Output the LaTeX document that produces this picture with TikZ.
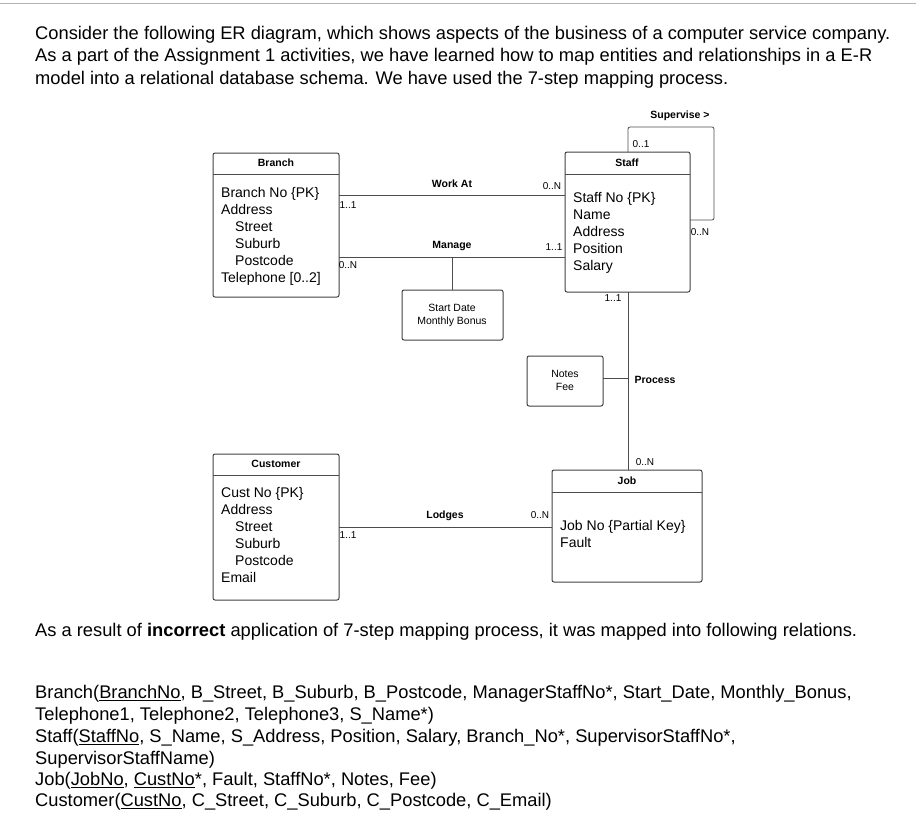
\documentclass[tikz,border=0pt]{standalone}
\usepackage{fontspec}
\setmainfont{Liberation Sans}
\newcommand{\ul}[1]{\underline{#1}}
\begin{document}
\begin{tikzpicture}[x=1pt,y=-1pt,
  ent/.style={draw=black!75,line width=1pt,rounded corners=2pt},
  ln/.style={draw=black!70,line width=0.8pt},
  lab/.style={font=\fontsize{10.5}{12}\selectfont\bfseries,inner sep=0pt},
  card/.style={font=\fontsize{10}{12}\selectfont,inner sep=0pt},
  attr/.style={font=\fontsize{14}{17}\selectfont,align=left,anchor=north west,inner sep=0pt},
  body/.style={font=\fontsize{18.3}{22.5}\selectfont,anchor=west,inner sep=0pt}]
\useasboundingbox (0,0) rectangle (916,819);
\draw[black!30,line width=1pt] (0,3) -- (916,3);
\node[body] (t1) at (35,35) {Consider the following ER diagram, which shows aspects of the business of a computer service company.};
\node[body] (t2) at (35,57) {As a part of the Assignment 1 activities, we have learned how to map entities and relationships in a E-R};
\node[body] (t3) at (35,80) {model into a relational database schema. We have used the 7-step mapping process.};
% Branch
\draw[ent] (213,153) rectangle (339,297);
\draw[ln] (213,174) -- (339,174);
\node[lab] (bh) at (276,163) {Branch};
\node[attr] (ba) at (221,187) {Branch No \{PK\}\\Address\\\quad Street\\\quad Suburb\\\quad Postcode\\Telephone [0..2]};
% Staff
\draw[ent] (565,152) rectangle (690,292);
\draw[ln] (565,174) -- (690,174);
\node[lab] (sh) at (627,163) {Staff};
\node[attr] (sa) at (573,192) {Staff No \{PK\}\\Name\\Address\\Position\\Salary};
% Supervise loop
\draw[ln,rounded corners=2pt] (628,152) -- (628,127) -- (714,127) -- (714,220) -- (690,220);
\node[lab] (sv) at (680,116) {Supervise >};
\node[card] (c01) at (641,144) {0..1};
\node[card] (c0n) at (700,232) {0..N};
% Work At
\draw[ln] (339,195) -- (565,195);
\node[lab] (wa) at (452,184) {Work At};
\node[card] (w1) at (348,205) {1..1};
\node[card] (w2) at (552,186) {0..N};
% Manage
\draw[ln] (339,257) -- (565,257);
\node[lab] (mg) at (452,246) {Manage};
\node[card] (m1) at (348,265) {0..N};
\node[card] (m2) at (554,247) {1..1};
\draw[ent] (402,290) rectangle (503,340);
\node[font=\fontsize{10.5}{13}\selectfont,align=center] (mb) at (452,315) {Start Date\\Monthly Bonus};
\draw[ln] (452,257) -- (452,290);
% Customer
\draw[ent] (213,454) rectangle (339,600);
\draw[ln] (213,475) -- (339,475);
\node[lab] (ch) at (276,464) {Customer};
\node[attr] (ca) at (221,487) {Cust No \{PK\}\\Address\\\quad Street\\\quad Suburb\\\quad Postcode\\Email};
% Job
\draw[ent] (552,470) rectangle (702,582);
\draw[ln] (552,492) -- (702,492);
\node[lab] (jh) at (627,481) {Job};
\node[attr] (ja) at (560,520) {Job No \{Partial Key\}\\Fault};
% Process
\draw[ln] (628,292) -- (628,470);
\node[lab] (pr) at (655,380) {Process};
\node[card] (p1) at (613,298) {1..1};
\node[card] (p2) at (645,462) {0..N};
\draw[ent] (527,356) rectangle (603,406);
\node[font=\fontsize{10.5}{13}\selectfont,align=center] (nf) at (565,380) {Notes\\Fee};
\draw[ln] (603,378) -- (628,378);
% Lodges
\draw[ln] (339,527) -- (552,527);
\node[lab] (ld) at (445,516) {Lodges};
\node[card] (l1) at (348,535) {1..1};
\node[card] (l2) at (540,515) {0..N};
% bottom text
\node[body] (b0) at (35,632) {As a result of \textbf{incorrect} application of 7-step mapping process, it was mapped into following relations.};
\node[body] (b1) at (35,694) {Branch(\ul{BranchNo}, B\_Street, B\_Suburb, B\_Postcode, ManagerStaffNo*, Start\_Date, Monthly\_Bonus,};
\node[body] (b2) at (35,716) {Telephone1, Telephone2, Telephone3, S\_Name*)};
\node[body] (b3) at (35,738) {Staff(\ul{StaffNo}, S\_Name, S\_Address, Position, Salary, Branch\_No*, SupervisorStaffNo*,};
\node[body] (b4) at (35,760) {SupervisorStaffName)};
\node[body] (b5) at (35,781) {Job(\ul{JobNo}, \ul{CustNo}*, Fault, StaffNo*, Notes, Fee)};
\node[body] (b6) at (35,802) {Customer(\ul{CustNo}, C\_Street, C\_Suburb, C\_Postcode, C\_Email)};
\end{tikzpicture}
\end{document}
